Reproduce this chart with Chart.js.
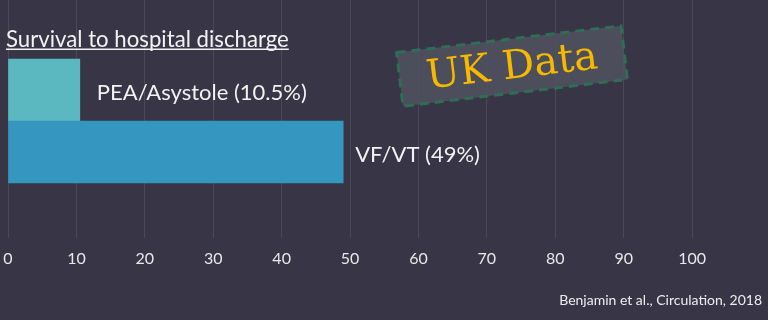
<!DOCTYPE html>
<html>
<head>
<meta charset="utf-8">
<script src="https://cdn.jsdelivr.net/npm/chart.js@4"></script>
<style>
  html, body { margin: 0; padding: 0; background: #373546; }
  #wrap { width: 768px; height: 320px; position: relative; }
</style>
</head>
<body>
<div id="wrap"><canvas id="survival"></canvas></div>
<script>
// data
var categories = ['PEA/Asystole', 'VF/VT'];
var survival = [10.5, 49];
var barLabels = ['PEA/Asystole (10.5%)', 'VF/VT (49%)'];
var barColors = ['#5bb8c1', '#3597bf'];
var tickValues = [0, 10, 20, 30, 40, 50, 60, 70, 80, 90, 100];

var chartTitle = 'Survival to hospital discharge';
var stampText = 'UK Data';
var sourceText = 'Benjamin et al., Circulation, 2018';

var overlay = {
    id: 'overlay',
    afterDatasetsDraw: function(chart) {
        var c = chart.ctx;
        var meta = chart.getDatasetMeta(0);
        c.save();
        // labels next to bars
        c.fillStyle = '#f2f2f2';
        c.font = '22px Lato';
        c.textBaseline = 'middle';
        c.textAlign = 'left';
        meta.data.forEach(function(bar, i) {
            var gap = i === 0 ? 17 : 12;
            c.fillText(barLabels[i], bar.x + gap, bar.y + 3);
        });

        // title, underlined
        c.font = '22.2px Lato';
        c.textBaseline = 'alphabetic';
        c.fillText(chartTitle, 6, 46.5);
        var w = c.measureText(chartTitle).width;
        c.fillRect(6, 48.5, w, 1.5);

        // rotated stamp
        c.translate(512, 66);
        c.rotate(-6.8 * Math.PI / 180);
        c.fillStyle = 'rgba(80, 82, 96, 0.85)';
        c.fillRect(-113, -27, 226, 54);
        c.setLineDash([9, 6]);
        c.lineWidth = 3;
        c.strokeStyle = '#2f6e55';
        c.strokeRect(-113, -27, 226, 54);
        c.setLineDash([]);
        c.fillStyle = '#f6b900';
        c.font = '40px "DejaVu Serif"';
        c.textAlign = 'center';
        c.textBaseline = 'middle';
        c.fillText(stampText, 0, 2);
        c.restore();

        // source
        c.save();
        c.fillStyle = '#eeeeee';
        c.font = '14px Lato';
        c.textAlign = 'right';
        c.textBaseline = 'middle';
        c.fillText(sourceText, 762, 300);
        c.restore();
    }
};

var ctx = document.getElementById('survival').getContext('2d');
var myChart = new Chart(ctx, {
    type: 'bar',
    data: {
        labels: categories,
        datasets: [{
            data: survival.map(function(v, i) { return { x: v, y: i + 1 }; }),
            backgroundColor: barColors,
            borderWidth: 0,
            barThickness: 61.7
        }]
    },
    options: {
        indexAxis: 'y',
        responsive: true,
        maintainAspectRatio: false,
        animation: false,
        layout: { padding: { left: 8, right: 0, top: 0, bottom: 41 } },
        scales: {
            x: {
                type: 'linear',
                min: 0,
                max: 111.1,
                afterBuildTicks: function(axis) {
                    axis.ticks = tickValues.map(function(v) { return { value: v }; });
                },
                afterFit: function(axis) {
                    axis.paddingLeft = 0;
                    axis.paddingRight = 0;
                },
                grid: { color: '#4b4959', lineWidth: 1, drawTicks: false },
                border: { display: false },
                ticks: {
                    color: '#e8e8e8',
                    font: { family: 'Lato', size: 16 },
                    padding: 11,
                    maxRotation: 0
                }
            },
            y: {
                type: 'linear',
                reverse: true,
                offset: false,
                min: -0.4516,
                max: 3.384,
                display: false
            }
        },
        plugins: {
            legend: { display: false },
            tooltip: { enabled: false }
        }
    },
    plugins: [overlay]
});
</script>
</body>
</html>
